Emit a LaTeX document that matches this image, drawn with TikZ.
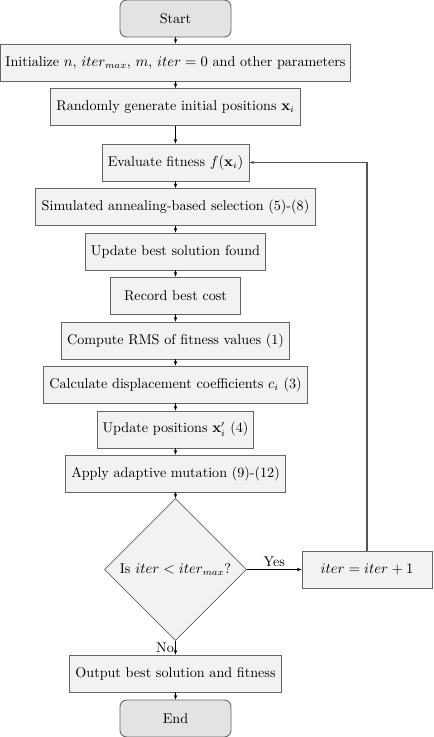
\documentclass[tikz,border=0pt]{standalone}
\usepackage{amsmath,amssymb}
\usepackage{xcolor}
\usetikzlibrary{shapes.geometric,arrows.meta}

\definecolor{boxfill}{HTML}{F2F2F2}
\definecolor{termfill}{HTML}{E3E3E3}
\definecolor{boxline}{HTML}{666666}
\definecolor{loopline}{HTML}{555555}

\newcommand{\flowfont}{\fontsize{10.6}{12.7}\selectfont}

\tikzset{
    proc/.style={draw=boxline, line width=0.7pt, fill=boxfill, minimum height=27.75pt, inner sep=2pt, font=\flowfont},
    term/.style={proc, fill=termfill, rounded corners=5pt},
    decision/.style={diamond, aspect=1, draw=boxline, line width=0.6pt, fill=boxfill, minimum size=106.5pt, inner sep=0pt, font=\flowfont},
    arr/.style={-{Stealth[length=3.5pt,width=2.6pt]}, line width=0.5pt},
    loopback/.style={draw=loopline, line width=1pt, -{Stealth[length=3.5pt,width=2.6pt]}}
}

\begin{document}
\begin{tikzpicture}[x=0.75pt,y=-0.75pt]
    \useasboundingbox (0,0) rectangle (433,737);
    % main column
    \node[term, minimum width=83.25pt] (start) at (175.5,18.5) {Start};
    \node[proc, minimum width=262.5pt] (init) at (175.5,62.5) {Initialize $n$, $iter_{max}$, $m$, $iter=0$ and other parameters};
    \node[proc, minimum width=187.5pt] (rand) at (175.5,107) {Randomly generate initial positions $\mathbf{x}_i$};
    \node[proc, minimum width=110.25pt] (eval) at (175.5,162.5) {Evaluate fitness $f(\mathbf{x}_i)$};
    \node[proc, minimum width=210pt] (sa) at (175.5,207) {Simulated annealing-based selection (5)-(8)};
    \node[proc, minimum width=135pt] (best) at (175.5,251.5) {Update best solution found};
    \node[proc, minimum width=97.5pt] (rec) at (175.5,295.5) {Record best cost};
    \node[proc, minimum width=171pt] (rms) at (175.5,340.5) {Compute RMS of fitness values (1)};
    \node[proc, minimum width=198pt] (disp) at (175.5,384.5) {Calculate displacement coefficients $c_i$ (3)};
    \node[proc, minimum width=117pt] (upd) at (175.5,429.5) {Update positions $\mathbf{x}_i'$ (4)};
    \node[proc, minimum width=165pt] (mut) at (175.5,473.5) {Apply adaptive mutation (9)-(12)};
    \node[decision] (dec) at (175.5,569.5) {Is $iter < iter_{max}$?};
    \node[proc, minimum width=97.5pt] (inc) at (367,569.5) {$iter = iter + 1$};
    \node[proc, minimum width=159pt] (out) at (175.5,673.5) {Output best solution and fitness};
    \node[term, minimum width=83.25pt] (end) at (175.5,718.5) {End};

    % arrows
    \foreach \a/\b in {start/init, init/rand, rand/eval, eval/sa, sa/best, best/rec, rec/rms, rms/disp, disp/upd, upd/mut, mut/dec, out/end}
        \draw[arr] (\a) -- (\b);
    \draw[arr] (dec.east) -- node[above, inner sep=2pt, font=\flowfont] {Yes} (inc.west);
    \draw[arr] (dec.south) -- node[left, inner sep=1pt, font=\flowfont] {No} (out.north);
    \draw[loopback] (inc.north) |- (eval.east);

\end{tikzpicture}
\end{document}
